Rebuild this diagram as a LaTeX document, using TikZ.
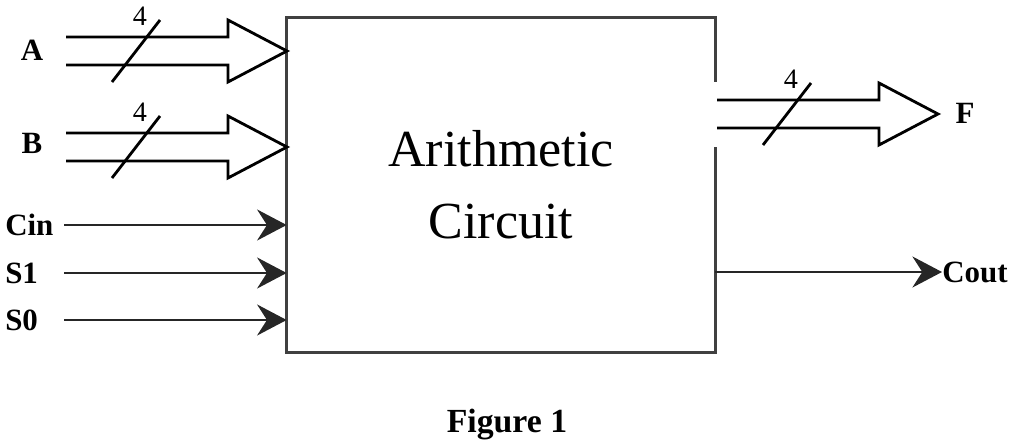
\documentclass[tikz,border=0pt]{standalone}
\usepackage{fontspec}
\setmainfont{Liberation Serif}
\usetikzlibrary{positioning,arrows.meta}
\begin{document}
\begin{tikzpicture}[x=0.025cm,y=-0.025cm]
    \tikzset{frame/.style={draw=black!75, line width=2.2pt}}
    \tikzset{bus/.style={line width=2pt, line join=miter}}
    \tikzset{sig/.style={-{Stealth[length=21pt,width=22pt,inset=7pt]}, line width=2pt, black!85}}
    \tikzset{lbl/.style={font=\fontsize{22}{26}\selectfont\bfseries, inner sep=0pt}}
    \tikzset{buswidth/.style={font=\fontsize{20}{22}\selectfont, inner sep=0pt}}
    \useasboundingbox (0,0) rectangle (1015,448);

    \node [minimum width=10.7cm, minimum height=8.35cm, inner sep=0pt, align=center,
           font=\fontsize{37}{51}\selectfont] (alu) at (501,185) {Arithmetic\\Circuit};
    % box with an opening for the F bus
    \draw[frame] (alu.north east) ++(0,64) -- (alu.north east) -- (alu.north west)
        -- (alu.south west) -- (alu.south east) -- ++(0,-205);

    % 4-bit buses
    \foreach \bname/\bx/\by in {busA/66/37, busB/66/133, busF/717/100} {
        \coordinate (\bname) at (\bx,\by);
        \draw[bus] (\bname) -- ++(162,0) -- ++(0,-17) -- ++(59,31) -- ++(-59,31)
            -- ++(0,-17) -- ++(-162,0);
        \draw[bus] (\bname) ++(46,45) -- ++(48,-62);
        \path (\bname) ++(74,-21) node[buswidth] {4};
    }
    \node [lbl] (A) at (32,50) {A};
    \node [lbl] (B) at (32,143) {B};
    \node [lbl] (F) at (965,113) {F};

    % single inputs
    \node [lbl, anchor=west] (cin) at (5,225) {Cin};
    \node [lbl, anchor=west] (s1) at (5,273) {S1};
    \node [lbl, anchor=west] (s0) at (5,320) {S0};
    \foreach \sname/\sy in {cinin/225, sain/273, sbin/320} {
        \coordinate (\sname) at (64,\sy);
        \draw[sig] (\sname) -- (\sname -| alu.west);
    }

    % carry out
    \node [lbl, anchor=west] (cout) at (942,272) {Cout};
    \draw[sig] (alu.east |- cout) -- (cout.west);

    \node [font=\fontsize{24}{28}\selectfont\bfseries] (caption) at (507,425) {Figure 1};
\end{tikzpicture}
\end{document}
